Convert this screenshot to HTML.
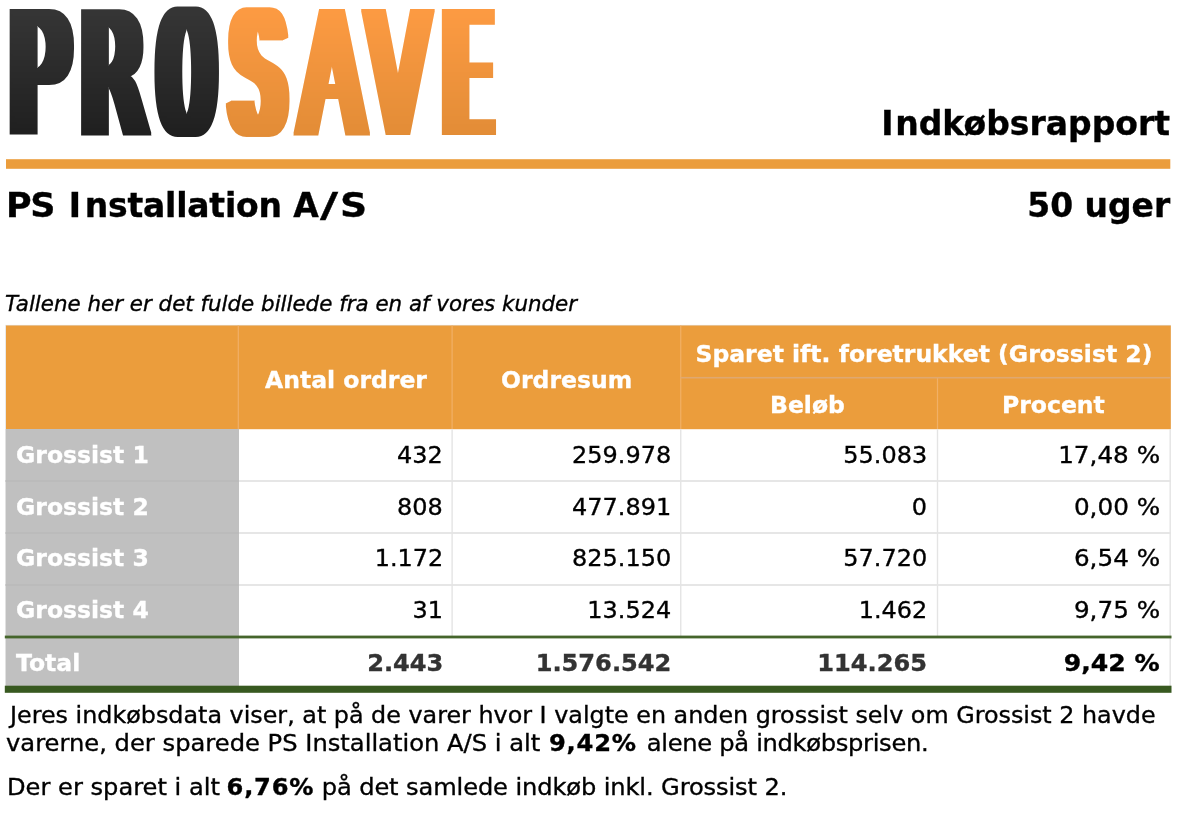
<!DOCTYPE html>
<html lang="da">
<head>
<meta charset="utf-8">
<title>Indkøbsrapport</title>
<style>
html,body{margin:0;padding:0;background:#fff;}
body{width:1182px;height:816px;position:relative;overflow:hidden;font-family:"DejaVu Sans","Liberation Sans",sans-serif;color:#000;}
.t{position:absolute;white-space:nowrap;display:block;line-height:1;-webkit-text-stroke-width:.35px;}
.l{transform-origin:0 50%;}
.r{transform-origin:100% 50%;}
.c{transform-origin:50% 50%;}
#logo{position:absolute;left:0;top:0;}
.big{font-size:33px;font-weight:bold;}
#title{right:12px;top:107.2px;}
#ti{margin-right:1.8px;}
#company{left:6.3px;top:189.3px;}
#company span{display:inline-block;}
#cw1{transform:scaleX(1.06);transform-origin:0 50%;margin-right:.4px;letter-spacing:-1.3px;}
#cw2{letter-spacing:-.22px;margin-left:-.9px;}
#ci{margin:0 4.1px 0 6px;}
#cw3{margin-left:-.1px;}
#csl{transform:scaleX(1.5);transform-origin:0 50%;margin:0 6.04px 0 1.5px;}
#cs{transform:scaleX(1.14);transform-origin:0 50%;margin-left:1.7px;}
#weeks{right:12px;top:189.3px;transform:scaleX(.998);}
#note{left:5px;top:294.3px;transform:scaleX(1.034);font-size:20.7px;font-style:italic;}
.box{position:absolute;}
.hd{font-size:23.5px;font-weight:bold;color:#fff;}
.rh{font-size:23.5px;font-weight:bold;color:#fff;left:16px;}
.n{font-size:23.5px;transform:scaleX(1.02);}
.b{font-weight:bold;color:#333;transform:scaleX(1.025);}
#d1,#d2,#d3,#d4,#d5{transform:scaleX(1.05);}
.p{font-size:23.5px;left:6px;}
#pb2{letter-spacing:.75px;margin-left:1px;}
#pb3{letter-spacing:.75px;margin-left:-1px;}
#ps2{letter-spacing:-.32px;margin-left:2.6px;}
#ps3{letter-spacing:-.11px;}
</style>
</head>
<body>
<svg id="logo" width="520" height="150" viewBox="0 0 520 150">
<defs>
<linearGradient id="gd" gradientUnits="userSpaceOnUse" x1="0" y1="-69" x2="0" y2="0"><stop offset="0" stop-color="#353535"/><stop offset="1" stop-color="#1f1f1f"/></linearGradient>
<linearGradient id="go" gradientUnits="userSpaceOnUse" x1="0" y1="-69" x2="0" y2="0"><stop offset="0" stop-color="#fc9a42"/><stop offset="1" stop-color="#e28c36"/></linearGradient>
<filter id="fat" filterUnits="userSpaceOnUse" x="0" y="0" width="520" height="150" color-interpolation-filters="sRGB">
<feMorphology in="SourceGraphic" operator="dilate" radius="8.5 1" x="0" y="0" width="222" height="150" result="m1"/>
<feMorphology in="SourceGraphic" operator="dilate" radius="10.5 1" x="222" y="0" width="68" height="150" result="m2"/>
<feMorphology in="SourceGraphic" operator="dilate" radius="7.75 1" x="290" y="0" width="148.5" height="150" result="m3"/>
<feMorphology in="SourceGraphic" operator="dilate" radius="11 1" x="438.5" y="0" width="81.5" height="150" result="m4"/>
<feMerge><feMergeNode in="m1"/><feMergeNode in="m2"/><feMergeNode in="m3"/><feMergeNode in="m4"/></feMerge>
</filter>
</defs>
<g filter="url(#fat)"><text y="0" font-family="Liberation Sans, sans-serif" font-size="100" transform="translate(0,134) scale(1,1.8023)"><tspan fill="url(#gd)" font-family="DejaVu Sans Mono, monospace" font-size="94.38"><tspan x="9.0" textLength="60.6" lengthAdjust="spacingAndGlyphs">P</tspan><tspan x="83.3" textLength="59.2" lengthAdjust="spacingAndGlyphs">R</tspan><tspan x="157.9" textLength="57.4" lengthAdjust="spacingAndGlyphs">O</tspan></tspan><tspan fill="url(#go)"><tspan x="233.5" textLength="48.3" lengthAdjust="spacingAndGlyphs">S</tspan><tspan x="301.2" textLength="61.0" lengthAdjust="spacingAndGlyphs">A</tspan><tspan x="368.8" textLength="58.4" lengthAdjust="spacingAndGlyphs">V</tspan><tspan x="448.1" textLength="39.6" lengthAdjust="spacingAndGlyphs">E</tspan></tspan></text></g>
</svg>
<div class="t r big" id="title"><span id="ti">I</span>ndkøbsrapport</div>
<div class="t l big" id="company"><span id="cw1">PS</span> <span id="cw2"><span id="ci">I</span>nstallation</span> <span id="cw3">A<span id="csl">/</span><span id="cs">S</span></span></div>
<div class="t r big" id="weeks">50 uger</div>
<div class="t l" id="note">Tallene her er det fulde billede fra en af vores kunder</div>

<svg class="box" style="left:0;top:0" width="1182" height="816" viewBox="0 0 1182 816">
<rect x="6" y="159.2" width="1164.3" height="9.6" fill="#eb9d3c"/>
<rect x="5.3" y="324.9" width="1165.5" height="104" fill="#e0e0e0"/>
<rect x="6" y="325.5" width="1164.8" height="103.7" fill="#eb9d3c"/>
<rect x="5.4" y="429" width="233.4" height="257" fill="#d4d4d4"/>
<rect x="5.9" y="429" width="232.1" height="257" fill="#c0c0c0"/>
<rect x="238" y="429" width="0.8" height="257" fill="#b9b9b9"/>
<g fill="#f1b066">
<rect x="237.7" y="325.5" width="1.2" height="103.5"/>
<rect x="451.5" y="325.5" width="1.2" height="103.5"/>
<rect x="680.15" y="325.5" width="1.2" height="103.5"/>
<rect x="936.9" y="377.7" width="1.2" height="51.3"/>
</g>
<rect x="680.7" y="376.9" width="490.1" height="1.6" fill="#dfa870"/>
<g fill="#dcdcdc">
<rect x="238.9" y="480.3" width="932" height="1.4"/>
<rect x="238.9" y="532.3" width="932" height="1.4"/>
<rect x="238.9" y="584.3" width="932" height="1.4"/>
</g>
<g fill="#e4e4e4">
<rect x="451.4" y="429" width="1.4" height="207"/>
<rect x="680.05" y="429" width="1.4" height="207"/>
<rect x="936.8" y="429" width="1.4" height="207"/>
<rect x="1169.5" y="429" width="1.4" height="257"/>
</g>
<g fill="#bababa">
<rect x="5.3" y="480.3" width="233.6" height="1.4"/>
<rect x="5.3" y="532.3" width="233.6" height="1.4"/>
<rect x="5.3" y="584.3" width="233.6" height="1.4"/>
</g>
<rect x="4.8" y="635.6" width="1166.7" height="2.8" fill="#45652b"/>
<rect x="4.8" y="685.7" width="1166.7" height="7.1" fill="#385920"/>
</svg>
<div class="t c hd" id="h1" style="left:265px;top:368.5px">Antal ordrer</div>
<div class="t c hd" id="h2" style="left:501px;top:368.5px">Ordresum</div>
<div class="t c hd" id="h3" style="left:695.5px;top:343.1px">Sparet ift. foretrukket (Grossist 2)</div>
<div class="t c hd" id="h4" style="left:770px;top:394.2px">Beløb</div>
<div class="t c hd" id="h5" style="left:1002px;top:394.2px">Procent</div>

<div class="t l rh" id="g1" style="top:443.8px">Grossist 1</div>
<div class="t l rh" id="g2" style="top:495.8px">Grossist 2</div>
<div class="t l rh" id="g3" style="top:546.8px">Grossist 3</div>
<div class="t l rh" id="g4" style="top:598.5px">Grossist 4</div>
<div class="t l rh" id="g5" style="top:651.6px">Total</div>

<div class="t r n" id="a1" style="right:739px;top:443.8px">432</div>
<div class="t r n" id="a2" style="right:739px;top:495.8px">808</div>
<div class="t r n" id="a3" style="right:739px;top:546.8px">1.172</div>
<div class="t r n" id="a4" style="right:739px;top:598.5px">31</div>
<div class="t r n b" id="a5" style="right:739px;top:651.6px">2.443</div>

<div class="t r n" id="b1" style="right:511px;top:443.8px">259.978</div>
<div class="t r n" id="b2" style="right:511px;top:495.8px">477.891</div>
<div class="t r n" id="b3" style="right:511px;top:546.8px">825.150</div>
<div class="t r n" id="b4" style="right:511px;top:598.5px">13.524</div>
<div class="t r n b" id="b5" style="right:511px;top:651.6px">1.576.542</div>

<div class="t r n" id="c1" style="right:255px;top:443.8px">55.083</div>
<div class="t r n" id="c2" style="right:255px;top:495.8px">0</div>
<div class="t r n" id="c3" style="right:255px;top:546.8px">57.720</div>
<div class="t r n" id="c4" style="right:255px;top:598.5px">1.462</div>
<div class="t r n b" id="c5" style="right:255px;top:651.6px">114.265</div>

<div class="t r n" id="d1" style="right:22px;top:443.8px">17,48 %</div>
<div class="t r n" id="d2" style="right:22px;top:495.8px">0,00 %</div>
<div class="t r n" id="d3" style="right:22px;top:546.8px">6,54 %</div>
<div class="t r n" id="d4" style="right:22px;top:598.5px">9,75 %</div>
<div class="t r n b" id="d5" style="transform:scaleX(1.07);right:22px;top:651.6px;color:#000">9,42 %</div>

<div class="t l p" id="p1" style="top:704.1px;left:9.8px;transform:scaleX(1.0138)">Jeres indkøbsdata viser, at på de varer hvor I valgte en anden grossist selv om Grossist 2 havde</div>
<div class="t l p" id="p2" style="top:732.2px;transform:scaleX(1.03)">varerne, der sparede PS Installation A/S i alt <b id="pb2">9,42%</b><span id="ps2"> alene på indkøbsprisen.</span></div>
<div class="t l p" id="p3" style="top:775.5px;left:6.5px;transform:scaleX(1.0272)">Der er sparet i alt <b id="pb3">6,76%</b><span id="ps3"> på det samlede indkøb inkl. Grossist 2.</span></div>
</body>
</html>
